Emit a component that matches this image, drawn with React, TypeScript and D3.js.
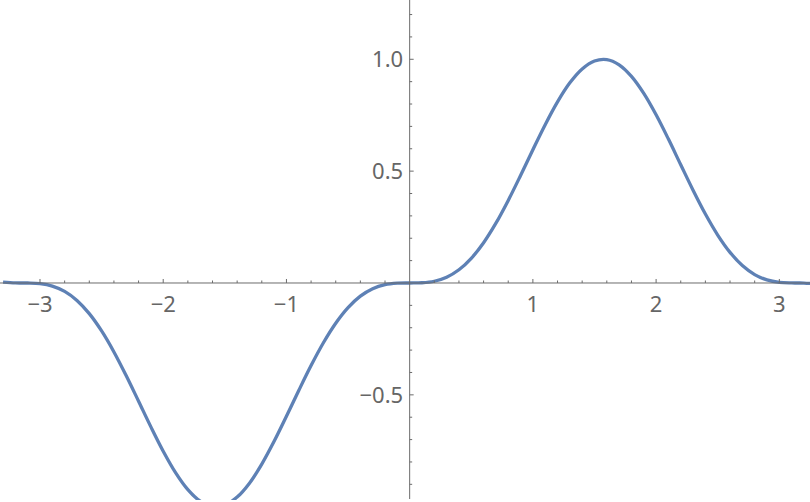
import React from "react";
import * as d3 from "d3";

const W = 810;
const H = 502;

// Curve samples (x, y)
const xs = [
  -3.3, -3.2, -3.1, -3.0, -2.9, -2.8, -2.7, -2.6, -2.5, -2.4, -2.3, -2.2, -2.1, -2.0,
  -1.9, -1.8, -1.7, -1.6, -1.5, -1.4, -1.3, -1.2, -1.1, -1.0, -0.9, -0.8, -0.7, -0.6,
  -0.5, -0.4, -0.3, -0.2, -0.1, 0.0, 0.1, 0.2, 0.3, 0.4, 0.5, 0.6, 0.7, 0.8, 0.9, 1.0,
  1.1, 1.2, 1.3, 1.4, 1.5, 1.6, 1.7, 1.8, 1.9, 2.0, 2.1, 2.2, 2.3, 2.4, 2.5, 2.6, 2.7,
  2.8, 2.9, 3.0, 3.1, 3.2, 3.3,
];
const ys = [
  0.0039, 0.0002, -0.0001, -0.0028, -0.0137, -0.0376, -0.0781, -0.137, -0.2144, -0.3082,
  -0.4147, -0.5285, -0.6432, -0.7518, -0.8474, -0.9235, -0.9753, -0.9988, -0.9925, -0.9569,
  -0.8947, -0.8096, -0.7078, -0.5958, -0.4806, -0.3692, -0.2673, -0.18, -0.1102, -0.059,
  -0.0258, -0.0078, -0.001, 0, 0.001, 0.0078, 0.0258, 0.059, 0.1102, 0.18, 0.2673, 0.3692,
  0.4806, 0.5958, 0.7078, 0.8096, 0.8947, 0.9569, 0.9925, 0.9988, 0.9753, 0.9235, 0.8474,
  0.7518, 0.6432, 0.5285, 0.4147, 0.3082, 0.2144, 0.137, 0.0781, 0.0376, 0.0137, 0.0028,
  0.0001, -0.0002, -0.0039,
];

const xMajorTicks = [-3, -2, -1, 1, 2, 3];
const xMajorLabels = ["−3", "−2", "−1", "1", "2", "3"];
const yMajorTicks = [-0.5, 0.5, 1.0];
const yMajorLabels = ["−0.5", "0.5", "1.0"];
const xMinorStep = 0.2;
const yMinorStep = 0.1;

export default function App() {
  const x = d3.scaleLinear().domain([-3.3246, 3.249]).range([0, W]);
  const y = d3.scaleLinear().domain([-0.979, 1.265]).range([H, 0]);

  const pts: [number, number][] = xs.map((v, i) => [v, ys[i]]);
  const line = d3
    .line<[number, number]>()
    .x((d) => x(d[0]))
    .y((d) => y(d[1]))
    .curve(d3.curveCatmullRom.alpha(0.5));

  const xMinor: number[] = [];
  for (let i = -15; i <= 15; i++) {
    const v = +(i * xMinorStep).toFixed(2);
    if (Math.abs(v - Math.round(v)) > 1e-6) xMinor.push(v);
  }
  const yMinor: number[] = [];
  for (let i = -9; i <= 12; i++) {
    const v = +(i * yMinorStep).toFixed(2);
    if (Math.abs(v * 2 - Math.round(v * 2)) > 1e-6) yMinor.push(v);
  }

  const x0 = x(0);
  const y0 = y(0);
  const axisColor = "#6b6b6b";
  const labelColor = "#666666";
  const font = "'Noto Sans', 'Open Sans', sans-serif";
  const fs = 22;

  return (
    <svg
      width={W}
      height={H}
      style={{ position: "absolute", left: 0, top: 0, display: "block", background: "#fff" }}
    >
      <defs>
        <clipPath id="plotclip">
          <rect x={0} y={0} width={W} height={H - 2} />
        </clipPath>
      </defs>
      <path
        d={line(pts) || ""}
        fill="none"
        stroke="#5E81B5"
        strokeWidth={3.3}
        strokeLinejoin="round"
        clipPath="url(#plotclip)"
      />
      {/* x axis */}
      <line x1={0} x2={W} y1={y0} y2={y0} stroke={axisColor} strokeWidth={1} />
      {xMajorTicks.map((t) => (
        <line key={"xM" + t} x1={x(t)} x2={x(t)} y1={y0} y2={y0 - 4} stroke={axisColor} strokeWidth={1} />
      ))}
      {xMinor.map((t) => (
        <line key={"xm" + t} x1={x(t)} x2={x(t)} y1={y0} y2={y0 - 2.5} stroke={axisColor} strokeWidth={1} />
      ))}
      {xMajorTicks.map((t, i) => (
        <text
          key={"xl" + t}
          x={x(t)}
          y={y0 + 29.5}
          textAnchor="middle"
          fontFamily={font}
          fontSize={fs}
          fill={labelColor}
        >
          {xMajorLabels[i]}
        </text>
      ))}
      {/* y axis */}
      <line x1={x0} x2={x0} y1={0} y2={H - 3} stroke={axisColor} strokeWidth={1} />
      {yMajorTicks.map((t) => (
        <line key={"yM" + t} x1={x0} x2={x0 + 4} y1={y(t)} y2={y(t)} stroke={axisColor} strokeWidth={1} />
      ))}
      {yMinor.map((t) => (
        <line key={"ym" + t} x1={x0} x2={x0 + 2.5} y1={y(t)} y2={y(t)} stroke={axisColor} strokeWidth={1} />
      ))}
      {yMajorTicks.map((t, i) => (
        <text
          key={"yl" + t}
          x={x0 - 6.5}
          y={y(t) + 7.8}
          textAnchor="end"
          fontFamily={font}
          fontSize={fs}
          fill={labelColor}
        >
          {yMajorLabels[i]}
        </text>
      ))}
    </svg>
  );
}
